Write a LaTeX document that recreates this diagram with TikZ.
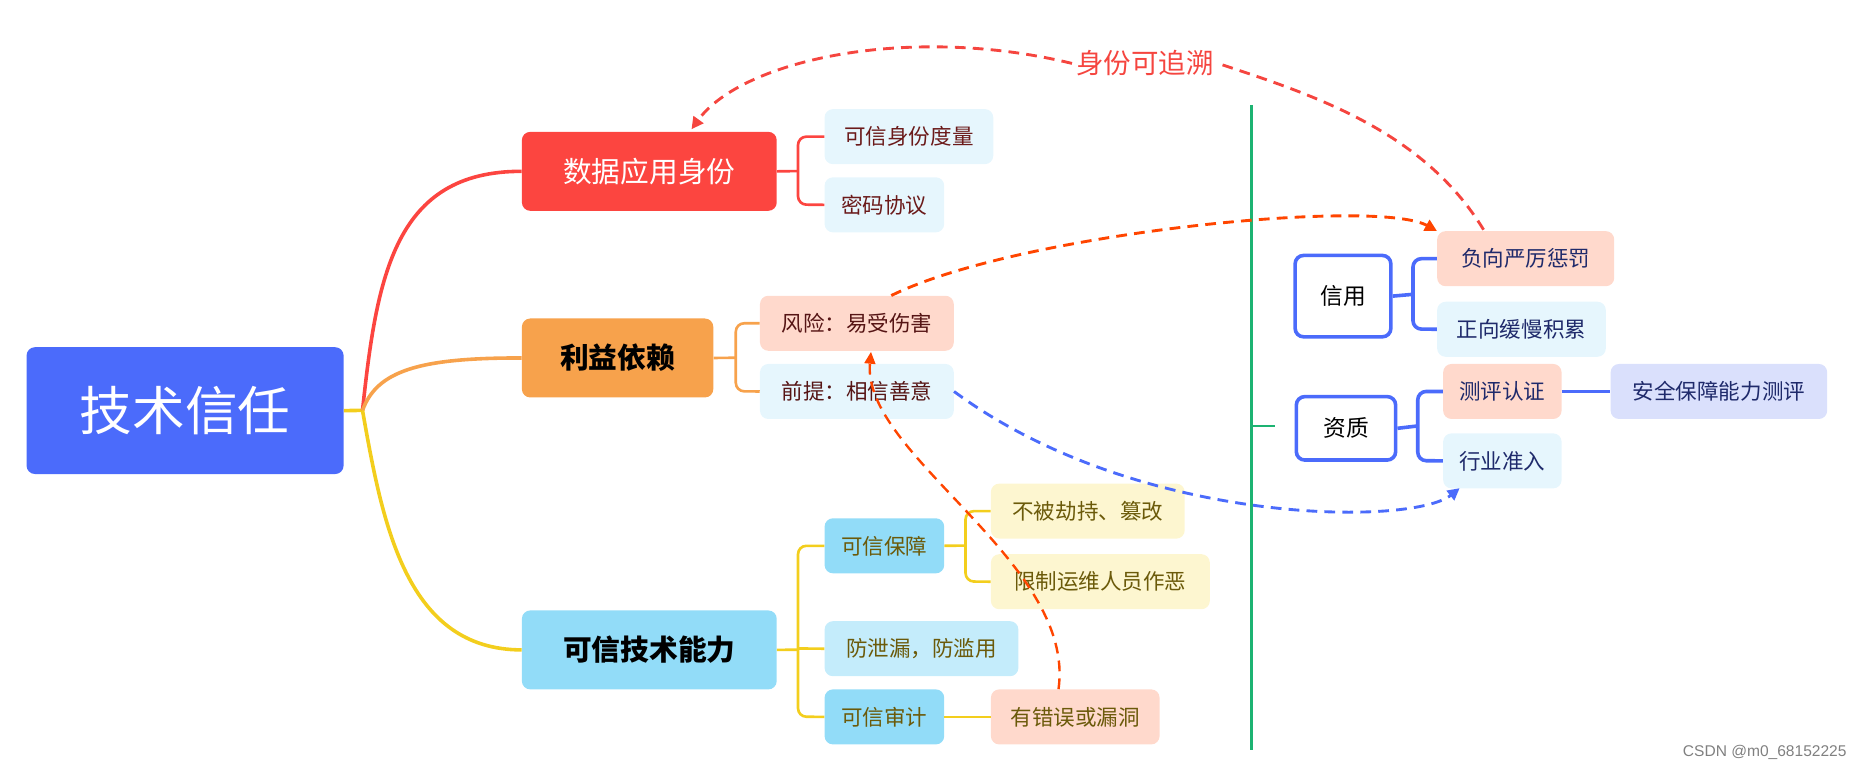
\documentclass[tikz,border=0pt]{standalone}
\usepackage{fontspec}
\setmainfont{Noto Sans CJK SC}
\setsansfont{Liberation Sans}
\usetikzlibrary{arrows.meta}
\definecolor{rootb}{HTML}{4B6BFB}
\definecolor{redb}{HTML}{FC4540}
\definecolor{orab}{HTML}{F7A24C}
\definecolor{cyab}{HTML}{92DCF8}
\definecolor{pale}{HTML}{E6F6FD}
\definecolor{salm}{HTML}{FFD9CC}
\definecolor{yelp}{HTML}{FDF6D0}
\definecolor{lav}{HTML}{DAE0FC}
\definecolor{ylw}{HTML}{F3CE1D}
\definecolor{grn}{HTML}{1DB372}
\definecolor{dred}{HTML}{6B1A1A}
\definecolor{olive}{HTML}{6B5A0A}
\definecolor{navy}{HTML}{1F2A6B}
\definecolor{dashred}{HTML}{F5453F}
\definecolor{dashora}{HTML}{FF4500}
\begin{document}
\begin{tikzpicture}[x=1pt,y=-1pt,
  box/.style={rounded corners=7pt,inner sep=0pt,anchor=north west,align=center},
  leaf/.style={box,font=\fontsize{18}{20}\selectfont},
  br/.style={line width=2.2pt,rounded corners=7pt},
  dsh/.style={line width=2.4pt,dash pattern=on 9pt off 6pt}]
\useasboundingbox (0,0) rectangle (1568,645);
\node[box,fill=rootb,minimum width=265pt,minimum height=106pt,text=white,font=\fontsize{44}{48}\selectfont] (root) at (22,290) {技术信任};
\node[box,fill=redb,minimum width=213pt,minimum height=66pt,text=white,font=\fontsize{24}{28}\selectfont] (d) at (436,110) {数据应用身份};
\node[box,fill=orab,minimum width=160pt,minimum height=66pt,font=\bfseries\fontsize{24}{28}\selectfont] (l) at (436,266) {利益依赖};
\node[box,fill=cyab,minimum width=213pt,minimum height=66pt,font=\bfseries\fontsize{24}{28}\selectfont] (k) at (436,510) {可信技术能力};
\node[leaf,fill=pale,text=dred,minimum width=141pt,minimum height=46pt] (d1) at (689,91) {可信身份度量};
\node[leaf,fill=pale,text=dred,minimum width=100pt,minimum height=46pt] (d2) at (689,148) {密码协议};
\node[leaf,fill=salm,text=dred!80!black,minimum width=162pt,minimum height=46pt] (l1) at (635,247) {风险：易受伤害};
\node[leaf,fill=pale,text=dred!80!black,minimum width=162pt,minimum height=46pt] (l2) at (635,304) {前提：相信善意};
\node[leaf,fill=cyab,text=olive,minimum width=100pt,minimum height=46pt] (k1) at (689,433) {可信保障};
\node[leaf,fill=yelp,text=olive,minimum width=162pt,minimum height=46pt] (k11) at (828,404) {不被劫持、篡改};
\node[leaf,fill=yelp,text=olive,minimum width=183pt,minimum height=46pt] (k12) at (828,463) {限制运维人员作恶};
\node[leaf,fill=pale!60!cyab,text=olive,minimum width=162pt,minimum height=46pt] (k2) at (689,519) {防泄漏，防滥用};
\node[leaf,fill=cyab,text=olive,minimum width=100pt,minimum height=46pt] (k3) at (689,576) {可信审计};
\node[leaf,fill=salm,text=olive,minimum width=141pt,minimum height=46pt] (k31) at (828,576) {有错误或漏洞};
\node[box,draw=rootb,line width=3pt,fill=white,minimum width=80pt,minimum height=68pt,font=\fontsize{19}{22}\selectfont] (x) at (1081,212) {信用};
\node[box,draw=rootb,line width=3pt,fill=white,minimum width=83pt,minimum height=53pt,font=\fontsize{19}{22}\selectfont] (z) at (1082,330) {资质};
\node[leaf,fill=salm,text=navy,minimum width=148pt,minimum height=46pt] (x1) at (1201,193) {负向严厉惩罚};
\node[leaf,fill=pale,text=navy,minimum width=141pt,minimum height=46pt] (x2) at (1201,252) {正向缓慢积累};
\node[leaf,fill=salm,text=navy,minimum width=99pt,minimum height=46pt] (z1) at (1206,304) {测评认证};
\node[leaf,fill=pale,text=navy,minimum width=99pt,minimum height=46pt] (z2) at (1206,362) {行业准入};
\node[leaf,fill=lav,text=navy,minimum width=181pt,minimum height=46pt] (z11) at (1346,304) {安全保障能力测评};
\node[text=dashred,font=\fontsize{23}{26}\selectfont] (lab) at (957,53) {身份可追溯};
\node[text=gray,font=\sffamily\fontsize{13}{15}\selectfont] (wm) at (1475,629) {CSDN @m0\_68152225};
% green divider
\coordinate (g1) at (1046,88); \coordinate (g2) at (1046,627);
\coordinate (g3) at (1046,356); \coordinate (g4) at (1066,356);
\draw[grn,line width=2pt] (g1)--(g2); \draw[grn,line width=2pt] (g3)--(g4);
% root branches
\coordinate (rs) at (303,343);
\draw[ylw,line width=3pt] (root.east)--(rs);
\draw[redb,line width=3pt] (rs) .. controls (315,230) and (330,143) .. (d.west);
\draw[orab,line width=3pt] (rs) .. controls (315,310) and (350,299) .. (l.west);
\draw[ylw,line width=3pt] (rs) .. controls (320,440) and (340,543) .. (k.west);
% brackets
\draw[redb,br] (d.east)--(667,143); \draw[redb,br] (d1.west)-|(667,171)--(d2.west);
\draw[orab,br] (l.east)--(615,299); \draw[orab,br] (l1.west)-|(615,327)--(l2.west);
\draw[ylw,br] (k.east)--(667,543); \draw[ylw,br] (k1.west)-|(667,599)--(k3.west); \draw[ylw,br] (667,542)--(k2.west);
\draw[ylw,br] (k1.east)--(807,456); \draw[ylw,br] (k11.west)-|(807,486)--(k12.west);
\draw[ylw,br] (k3.east)--(k31.west);
\draw[rootb,br,line width=3pt] (x.east)--(1181,246); \draw[rootb,br,line width=3pt] (x1.west)-|(1181,275)--(x2.west);
\draw[rootb,br,line width=3pt] (z.east)--(1185,356); \draw[rootb,br,line width=3pt] (z1.west)-|(1185,385)--(z2.west);
\draw[rootb,line width=3pt] (z1.east)--(z11.west);
% dashed arrows
\draw[dsh,dashred] (1240,192) .. controls (1190,110) and (1100,80) .. (lab.east);
\draw[dsh,dashred,-{Triangle[length=10pt,width=10pt]}] (lab.west) .. controls (760,20) and (620,50) .. (578,108);
\draw[dsh,dashora,-{Triangle[length=10pt,width=10pt]}] (745,247) .. controls (850,195) and (1150,165) .. (x1.north west);
\draw[dsh,rootb,-{Triangle[length=10pt,width=10pt]}] (l2.east) .. controls (950,440) and (1180,440) .. (1220,408);
\draw[line width=2pt,dash pattern=on 9pt off 6pt,dashora,-{Triangle[length=10pt,width=9pt]}] (k31.north)++(-14,0) .. controls (900,470) and (720,380) .. (728,294);
\end{tikzpicture}
\end{document}
